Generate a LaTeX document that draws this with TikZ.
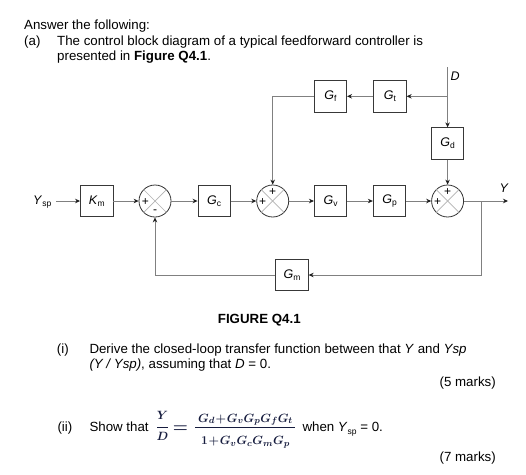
\documentclass[tikz,border=0pt]{standalone}
\usepackage{fontspec}
\setmainfont{Liberation Sans}
\usetikzlibrary{arrows.meta,calc}
\definecolor{eqnavy}{RGB}{22,28,62}
\newcommand{\bsym}[2]{\textit{#1}\raisebox{-0.35ex}{\fontsize{8.5}{9}\selectfont #2}}
\begin{document}
\begin{tikzpicture}[x=1pt,y=-1pt,
  blockbox/.style={draw=black!78, line width=0.8pt, minimum width=32.5pt, minimum height=31.5pt, inner sep=0pt, font=\fontsize{12.5}{14}\selectfont},
  sumnode/.style={circle, draw=black!80, line width=0.8pt, minimum size=32pt, inner sep=0pt},
  conn/.style={draw=black!50, line width=0.8pt, -{Stealth[length=5pt,width=4.5pt,color=black!88]}},
  xline/.style={draw=black!30, line width=0.7pt},
  txt/.style={inner sep=0pt, anchor=base west, font=\fontsize{13.3}{16}\selectfont},
  lbl/.style={inner sep=0pt, anchor=base west, font=\fontsize{12.5}{14}\selectfont},
  sign/.style={inner sep=0pt, font=\fontsize{12}{13}\selectfont},
  eqtxt/.style={inner sep=0pt, anchor=base, text=eqnavy, font=\fontsize{13}{15}\selectfont\boldmath},
]
\fill[white] (0,0) rectangle (526,474);
\useasboundingbox (0,0) rectangle (526,474);

% ---- header text
\node[txt] (t1) at (24,29.5) {Answer the following:};
\node[txt] (t2a) at (24,45.3) {(a)};
\node[txt] (t2b) at (57,45.3) {The control block diagram of a typical feedforward controller is};
\node[txt] (t3) at (57,60.8) {presented in \textbf{Figure Q4.1}.};

% ---- diagram nodes
\node[lbl] (ysp) at (33,204) {\textit{Y}\raisebox{-0.35ex}{\fontsize{8.5}{9}\selectfont sp}};
\coordinate (a0) at (56,201);
\node[blockbox] (km) at (96.7,201) {\bsym{K}{m}};
\node[sumnode] (s1) at (155,201) {};
\node[blockbox] (gc) at (214.2,201) {\bsym{G}{c}};
\node[sumnode] (s2) at (272.7,201) {};
\node[blockbox] (gv) at (330.6,201) {\bsym{G}{v}};
\node[blockbox] (gp) at (389.5,201) {\bsym{G}{p}};
\node[sumnode] (s3) at (447.6,201) {};
\coordinate (br) at (481,201);
\coordinate (yout) at (508,201);
\node[lbl] (ylab) at (499.5,192) {\textit{Y}};

\node[blockbox] (gf) at (330.4,96.3) {\bsym{G}{f}};
\node[blockbox] (gt) at (390,96.3) {\bsym{G}{t}};
\node[blockbox] (gd) at (447.6,143.5) {\bsym{G}{d}};
\coordinate (dtop) at (447.6,67);
\coordinate (dbr) at (447.6,96.3);
\node[lbl] (dlab) at (450.5,80) {\textit{D}};
\node[blockbox] (gm) at (292,275) {\bsym{G}{m}};

% crosses in summing junctions
\foreach \s in {s1,s2,s3}{
  \draw[xline] (\s.north east) -- (\s.south west);
  \draw[xline] (\s.north west) -- (\s.south east);
}
% signs
\node[sign] (s1p) at ($(s1)+(-9.5,1)$) {+};
\node[sign] (s1m) at ($(s1)+(0,10.5)$) {-};
\node[sign] (s2t) at ($(s2)+(0,-9)$) {+};
\node[sign] (s2l) at ($(s2)+(-10,1)$) {+};
\node[sign] (s3t) at ($(s3)+(0,-9)$) {+};
\node[sign] (s3l) at ($(s3)+(-10,1)$) {+};

% ---- connectors
\draw[conn] (a0) -- (km);
\draw[conn] (km) -- (s1);
\draw[conn] (s1) -- (gc);
\draw[conn] (gc) -- (s2);
\draw[conn] (s2) -- (gv);
\draw[conn] (gv) -- (gp);
\draw[conn] (gp) -- (s3);
\draw[conn] (s3) -- (yout);
\draw[conn] (br) |- (gm);
\draw[conn] (gm) -| (s1);
\draw[conn] (dtop) -- (gd);
\draw[conn] (dbr) -- (gt);
\draw[conn] (gd) -- (s3);
\draw[conn] (gt) -- (gf);
\draw[conn] (gf) -| (s2);

% ---- caption and questions
\node[txt, font=\fontsize{13.3}{16}\selectfont\bfseries] (fig) at (217.7,323.3) {FIGURE Q4.1};
\node[txt] (q1a) at (56.7,353.5) {(i)};
\node[txt] (q1b) at (89.3,353.5) {Derive the closed-loop transfer function between that \textit{Y} and \textit{Ysp}};
\node[txt] (q1c) at (89.3,368.5) {\textit{(Y / Ysp)}, assuming that \textit{D} = 0.};
\node[txt, anchor=base east] (m1) at (496,386) {(5 marks)};

\node[txt] (q2a) at (57.3,431.7) {(ii)};
\node[txt] (q2b) at (89.3,431.7) {Show that};
\node[eqtxt] (fy) at (162.5,419.5) {$Y$};
\draw[eqnavy, line width=1pt] (157.3,427.3) -- (167.5,427.3);
\node[eqtxt] (fd) at (162.5,440.5) {$D$};
\node[eqtxt, font=\fontsize{17}{18}\selectfont\boldmath] (feq) at (180.5,432.5) {$=$};
\node[eqtxt] (fn) at (245.5,422) {$G_d\!+\!G_vG_pG_fG_t$};
\draw[eqnavy, line width=1pt] (195,427.3) -- (295,427.3);
\node[eqtxt] (fden) at (245.5,444.5) {$1\!+\!G_vG_cG_mG_p$};
\node[txt] (q2c) at (302.3,431.7) {when \textit{Y}\raisebox{-0.35ex}{\fontsize{8.5}{9}\selectfont sp} = 0.};
\node[txt, anchor=base east] (m2) at (496,461.5) {(7 marks)};
\end{tikzpicture}
\end{document}
